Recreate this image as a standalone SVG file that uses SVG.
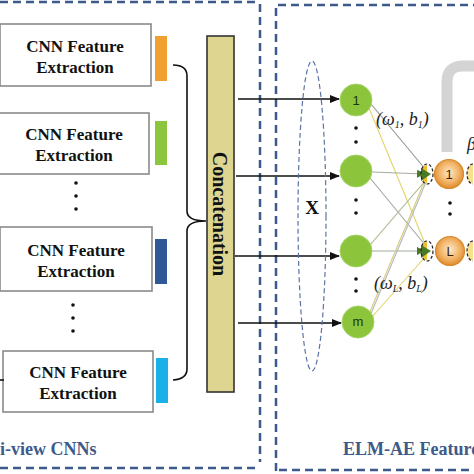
<svg xmlns="http://www.w3.org/2000/svg" width="474" height="474" viewBox="0 0 474 474">
<defs>
<style>
.frame{fill:none;stroke:#3d5a8a;stroke-width:2.5;stroke-dasharray:8 5}
.box{fill:#fff;stroke:#8a8a8a;stroke-width:1.6}
.bt{font-family:"Liberation Serif","Times New Roman",serif;font-weight:bold;font-size:17px;fill:#111;text-anchor:middle}
.cap{font-family:"Liberation Serif","Times New Roman",serif;font-weight:bold;font-size:18px;fill:#3d5a8a}
.dot{fill:#111}
.gn{fill:#8cc43c;stroke:#a6d46a;stroke-width:1}
.nl{font-family:"Liberation Sans",Arial,sans-serif;font-size:13px;fill:#1e3410;text-anchor:middle}
.hl{font-family:"Liberation Sans",Arial,sans-serif;font-size:13px;fill:#3a2000;text-anchor:middle}
.on{fill:url(#og);stroke:#d98a2a;stroke-width:1.2}
.wl{font-family:"Liberation Serif","Times New Roman",serif;font-style:italic;font-size:18px;fill:#222}
.ln{fill:none;stroke:#111;stroke-width:1.6}
.sd{fill:none;stroke:#222;stroke-width:1.2;stroke-dasharray:3 2}
</style>
<radialGradient id="og" cx="50%" cy="45%" r="55%">
<stop offset="0" stop-color="#fde8c8"/>
<stop offset="0.6" stop-color="#f2b56a"/>
<stop offset="1" stop-color="#e08a2c"/>
</radialGradient>
<marker id="ah" markerWidth="10" markerHeight="8" refX="9" refY="4" orient="auto" markerUnits="userSpaceOnUse">
<path d="M0,0 L10,4 L0,8 Z" fill="#111"/>
</marker>
<marker id="gah" markerWidth="8" markerHeight="8" refX="7" refY="4" orient="auto" markerUnits="userSpaceOnUse">
<path d="M0,0 L8,4 L0,8 Z" fill="#4a7a26"/>
</marker>
</defs>
<rect width="474" height="474" fill="#fff"/>

<g id="frames">
<line class="frame" x1="0" y1="2" x2="258" y2="2"/>
<line class="frame" x1="260" y1="4" x2="260" y2="462"/>
<line class="frame" x1="0" y1="468" x2="258" y2="468"/>
<line class="frame" x1="278" y1="5" x2="474" y2="5"/>
<line class="frame" x1="276" y1="8" x2="276" y2="474"/>
<line class="frame" x1="279" y1="470" x2="474" y2="470"/>
</g>

<g id="cnn1">
<rect class="box" x="0" y="24" width="151" height="62"/>
<text class="bt" x="75" y="52">CNN Feature</text>
<text class="bt" x="75" y="73">Extraction</text>
<rect x="155" y="36" width="12" height="45" fill="#f0a030"/>
</g>
<g id="cnn2">
<rect class="box" x="-2" y="113" width="151" height="61"/>
<text class="bt" x="74" y="140">CNN Feature</text>
<text class="bt" x="74" y="161">Extraction</text>
<rect x="155" y="121" width="12" height="44" fill="#8cc63e"/>
</g>
<g id="cnn3">
<rect class="box" x="0" y="227" width="152" height="64"/>
<text class="bt" x="76" y="256">CNN Feature</text>
<text class="bt" x="76" y="277">Extraction</text>
<rect x="155" y="239" width="12" height="45" fill="#2e5896"/>
</g>
<g id="cnn4">
<rect class="box" x="3" y="351" width="150" height="61"/>
<text class="bt" x="78" y="378">CNN Feature</text>
<text class="bt" x="78" y="399">Extraction</text>
<rect x="156" y="358" width="12" height="45" fill="#1ab0e8"/>
</g>
<g id="dots-left">
<circle class="dot" cx="76" cy="183" r="1.8"/>
<circle class="dot" cx="76" cy="196" r="1.8"/>
<circle class="dot" cx="76" cy="209" r="1.8"/>
<circle class="dot" cx="73" cy="305" r="1.8"/>
<circle class="dot" cx="73" cy="318" r="1.8"/>
<circle class="dot" cx="73" cy="331" r="1.8"/>
</g>

<g id="concat">
<rect x="207" y="36" width="27" height="356" fill="#ddd590" stroke="#333" stroke-width="1.6"/>
<text transform="translate(213,214) rotate(90)" text-anchor="middle" font-family="Liberation Serif,'Times New Roman',serif" font-weight="bold" font-size="20" fill="#111">Concatenation</text>
</g>

<g id="connectors">
<line class="ln" x1="0" y1="380" x2="4" y2="380"/>
<path class="ln" d="M173,65 Q187,65 187,76 V211 Q187,221 206,221 M206,221 Q187,221 187,231 V369 Q187,379 173,380"/>
<line class="ln" x1="238" y1="99" x2="339" y2="99" marker-end="url(#ah)"/>
<line class="ln" x1="236" y1="176" x2="339" y2="176" marker-end="url(#ah)"/>
<line class="ln" x1="235" y1="256" x2="339" y2="256" marker-end="url(#ah)"/>
<line class="ln" x1="238" y1="323" x2="341" y2="323" marker-end="url(#ah)"/>
<g stroke-width="1.1" fill="none">
<line x1="371" y1="104" x2="426" y2="170" stroke="#8e968c"/>
<line x1="369" y1="108" x2="426" y2="246" stroke="#e2d46a"/>
<line x1="372" y1="172" x2="424" y2="174" stroke="#a4aca0" marker-end="url(#gah)"/>
<line x1="370" y1="178" x2="426" y2="246" stroke="#a0a89c"/>
<line x1="370" y1="245" x2="426" y2="180" stroke="#a8b488"/>
<line x1="372" y1="251" x2="424" y2="251" stroke="#a4aca0" marker-end="url(#gah)"/>
<line x1="370" y1="316" x2="426" y2="182" stroke="#b0b8c0"/>
<line x1="371" y1="318" x2="426" y2="256" stroke="#e2d46a"/>
<line x1="369" y1="314" x2="426" y2="178" stroke="#d8cc78"/>
</g>
</g>

<path d="M447,152 V82 Q447,66 463,66 H480" fill="none" stroke="#d4d4d4" stroke-width="11"/>

<ellipse cx="312" cy="216" rx="14" ry="155" fill="none" stroke="#5a74a4" stroke-width="1.2" stroke-dasharray="5 3"/>
<text x="312" y="214" text-anchor="middle" font-family="Liberation Serif,'Times New Roman',serif" font-weight="bold" font-size="19" fill="#111">X</text>

<g id="in1"><circle class="gn" cx="356" cy="100" r="16"/><text class="nl" x="356" y="105">1</text></g>
<g id="in2"><circle class="gn" cx="356" cy="171" r="16"/></g>
<g id="in3"><circle class="gn" cx="356" cy="251" r="16"/></g>
<g id="inm"><circle class="gn" cx="358" cy="322" r="16"/><text class="nl" x="358" y="326">m</text></g>
<g id="dots-in">
<circle class="dot" cx="356" cy="128" r="1.8"/>
<circle class="dot" cx="356" cy="142" r="1.8"/>
<circle class="dot" cx="356" cy="200" r="1.8"/>
<circle class="dot" cx="356" cy="213" r="1.8"/>
<circle class="dot" cx="356" cy="279" r="1.8"/>
<circle class="dot" cx="356" cy="291" r="1.8"/>
</g>

<g id="h1">
<path d="M427,174 m0,-9 a6,9 0 0 0 0,18 Z" fill="#f0c030"/>
<path d="M421,168 L431,174 L421,181 Z" fill="#4a7a26"/>
<ellipse class="sd" cx="427" cy="174" rx="6" ry="10"/>
<circle class="on" cx="449" cy="174" r="14.5"/>
<text class="hl" x="449" y="179">1</text>
<path d="M473,164 a6,10 0 0 0 0,20" fill="#f6e08a" stroke="#222" stroke-width="1.2" stroke-dasharray="3 2"/>
</g>
<g id="hL">
<path d="M427,251 m0,-9 a6,9 0 0 0 0,18 Z" fill="#f0c030"/>
<path d="M421,245 L431,251 L421,258 Z" fill="#4a7a26"/>
<ellipse class="sd" cx="427" cy="251" rx="6" ry="10"/>
<circle class="on" cx="450" cy="251" r="14.5"/>
<text class="hl" x="450" y="256" font-family="Liberation Serif,serif">L</text>
<path d="M473,241 a6,10 0 0 0 0,20" fill="#f6e08a" stroke="#222" stroke-width="1.2" stroke-dasharray="3 2"/>
</g>
<g id="dots-h">
<circle class="dot" cx="450" cy="203" r="1.8"/>
<circle class="dot" cx="450" cy="214" r="1.8"/>
</g>

<text class="wl" x="376" y="125">(ω<tspan font-size="10" dy="3">1</tspan><tspan dy="-3">, b</tspan><tspan font-size="10" dy="3">1</tspan><tspan dy="-3">)</tspan></text>
<text class="wl" x="374" y="289">(ω<tspan font-size="10" dy="3">L</tspan><tspan dy="-3">, b</tspan><tspan font-size="10" dy="3">L</tspan><tspan dy="-3">)</tspan></text>
<text class="wl" x="467" y="150">β</text>

<text class="cap" x="0" y="455">i-view CNNs</text>
<text class="cap" x="343" y="455">ELM-AE Feature</text>
</svg>
